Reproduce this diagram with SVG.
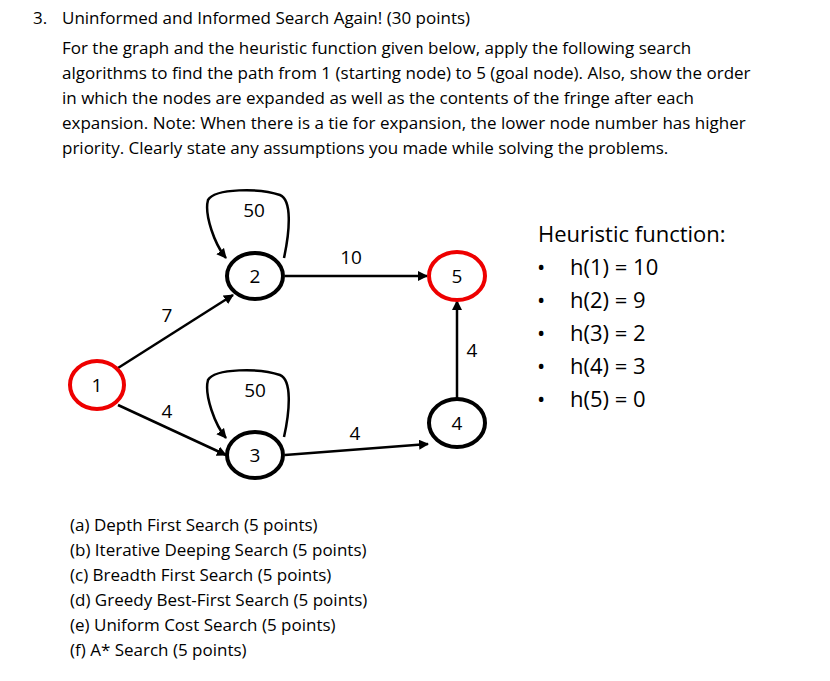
<svg xmlns="http://www.w3.org/2000/svg" width="830" height="681" viewBox="0 0 830 681">
<style>
text{font-family:"Open Sans","Noto Sans",sans-serif;fill:#000}
.p{font-size:17px}
.n{font-size:19px;text-anchor:middle}
.h{font-size:22px}
.e{fill:#fff;stroke:#000;stroke-width:4}
.r{stroke:#e00}
.c{fill:none;stroke:#000;stroke-width:2.5;marker-end:url(#a)}
</style>
<defs><marker id="a" viewBox="0 0 10 10" refX="9" refY="5" markerWidth="4" markerHeight="4" orient="auto"><path d="M0,0L10,5L0,10z"/></marker></defs>
<rect width="830" height="681" fill="#fff"/>
<g id="question" class="p">
<text x="33" y="24">3.</text>
<text x="62" y="24">Uninformed and Informed Search Again! (30 points)</text>
<text x="62" y="54">For the graph and the heuristic function given below, apply the following search</text>
<text x="62" y="79">algorithms to find the path from 1 (starting node) to 5 (goal node). Also, show the order</text>
<text x="62" y="104">in which the nodes are expanded as well as the contents of the fringe after each</text>
<text x="62" y="129">expansion. Note: When there is a tie for expansion, the lower node number has higher</text>
<text x="62" y="154">priority. Clearly state any assumptions you made while solving the problems.</text>
</g>
<g id="connectors">
<path class="c" d="M284,258 C290,230 292,200 280,195 C260,188 215,188 208,200 C204,215 215,245 226,258"/>
<path class="c" d="M284,437 C290,410 292,380 280,375 C260,368 215,368 208,380 C204,395 215,425 226,438"/>
<line class="c" x1="118" y1="368" x2="233" y2="295"/>
<line class="c" x1="118" y1="405" x2="226" y2="455"/>
<line class="c" x1="285" y1="276" x2="427" y2="276"/>
<line class="c" x1="285" y1="455" x2="428" y2="444"/>
<line class="c" x1="457" y1="398" x2="457" y2="301"/>
<text class="n" x="254" y="217">50</text>
<text class="n" x="255" y="397">50</text>
<text class="n" x="351" y="264">10</text>
<text class="n" x="167" y="322">7</text>
<text class="n" x="167" y="418">4</text>
<text class="n" x="355" y="440">4</text>
<text class="n" x="472" y="357">4</text>
</g>
<g id="n1"><ellipse class="e r" cx="97" cy="385" rx="27" ry="24"/><text class="n" x="97" y="392">1</text></g>
<g id="n2"><ellipse class="e" cx="255" cy="276" rx="28" ry="23"/><text class="n" x="255" y="283">2</text></g>
<g id="n3"><ellipse class="e" cx="255" cy="455" rx="28" ry="23"/><text class="n" x="255" y="462">3</text></g>
<g id="n4"><ellipse class="e" cx="457" cy="423" rx="28" ry="24"/><text class="n" x="457" y="430">4</text></g>
<g id="n5"><ellipse class="e r" cx="457" cy="276" rx="28" ry="24"/><text class="n" x="457" y="283">5</text></g>
<g id="heuristic" class="h">
<text x="538" y="242">Heuristic function:</text>
<text x="537" y="275">•</text><text x="570" y="275">h(1) = 10</text>
<text x="537" y="308">•</text><text x="570" y="308">h(2) = 9</text>
<text x="537" y="341">•</text><text x="570" y="341">h(3) = 2</text>
<text x="537" y="374">•</text><text x="570" y="374">h(4) = 3</text>
<text x="537" y="407">•</text><text x="570" y="407">h(5) = 0</text>
</g>
<g id="parts" class="p">
<text x="70" y="531">(a)  Depth First Search (5 points)</text>
<text x="70" y="556">(b)  Iterative Deeping Search (5 points)</text>
<text x="70" y="581">(c)  Breadth First Search (5 points)</text>
<text x="70" y="606">(d)  Greedy Best-First Search (5 points)</text>
<text x="70" y="631">(e)  Uniform Cost Search (5 points)</text>
<text x="70" y="656">(f)   A* Search (5 points)</text>
</g>
</svg>
